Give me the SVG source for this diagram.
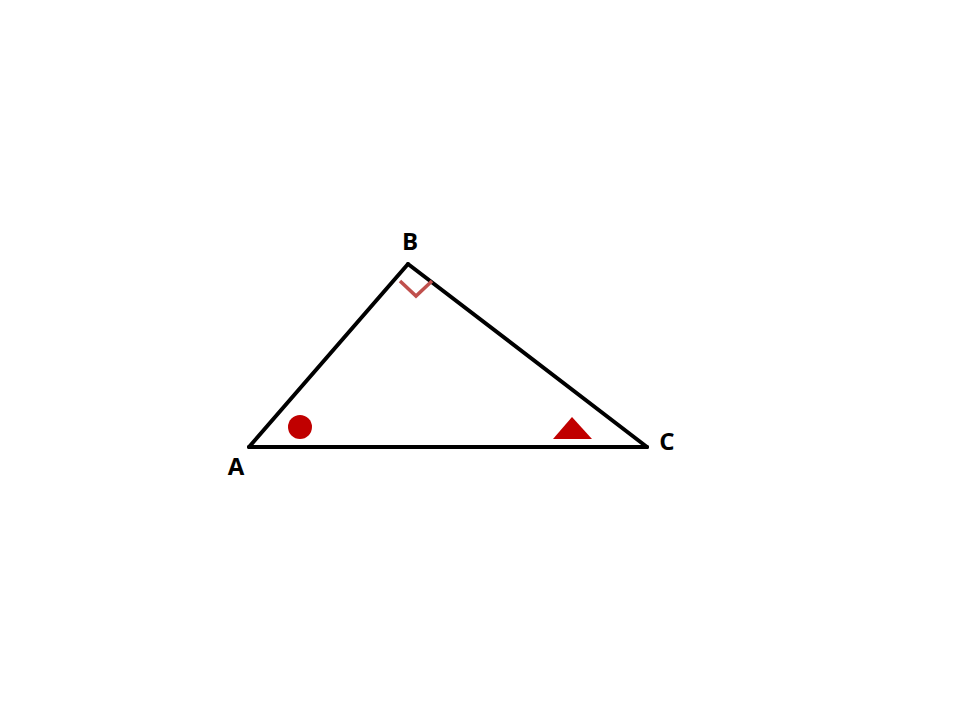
<svg xmlns="http://www.w3.org/2000/svg" width="960" height="720" viewBox="0 0 960 720">
<style>
.lbl{font-family:"Open Sans","Liberation Sans",sans-serif;font-weight:bold;font-size:24px;fill:#000;text-anchor:middle}
.side{stroke:#000;stroke-width:4;stroke-linecap:round;fill:none}
</style>
<rect width="960" height="720" fill="#fff"/>
<g id="edges">
<line class="side" x1="249" y1="447" x2="408" y2="264"/>
<line class="side" x1="408" y1="264" x2="647" y2="447"/>
<line class="side" x1="249" y1="447" x2="647" y2="447"/>
</g>
<g id="angleB">
<polyline points="400,281 416,296 432,281" fill="none" stroke="#c0504d" stroke-width="3.5"/>
</g>
<g id="angleA">
<circle cx="300" cy="427" r="12" fill="#c00000"/>
</g>
<g id="angleC">
<polygon points="572,417 553,439 592,439" fill="#c00000"/>
</g>
<g id="labelA"><text class="lbl" x="236" y="475">A</text></g>
<g id="labelB"><text class="lbl" x="410" y="250">B</text></g>
<g id="labelC"><text class="lbl" x="667" y="450">C</text></g>
</svg>
